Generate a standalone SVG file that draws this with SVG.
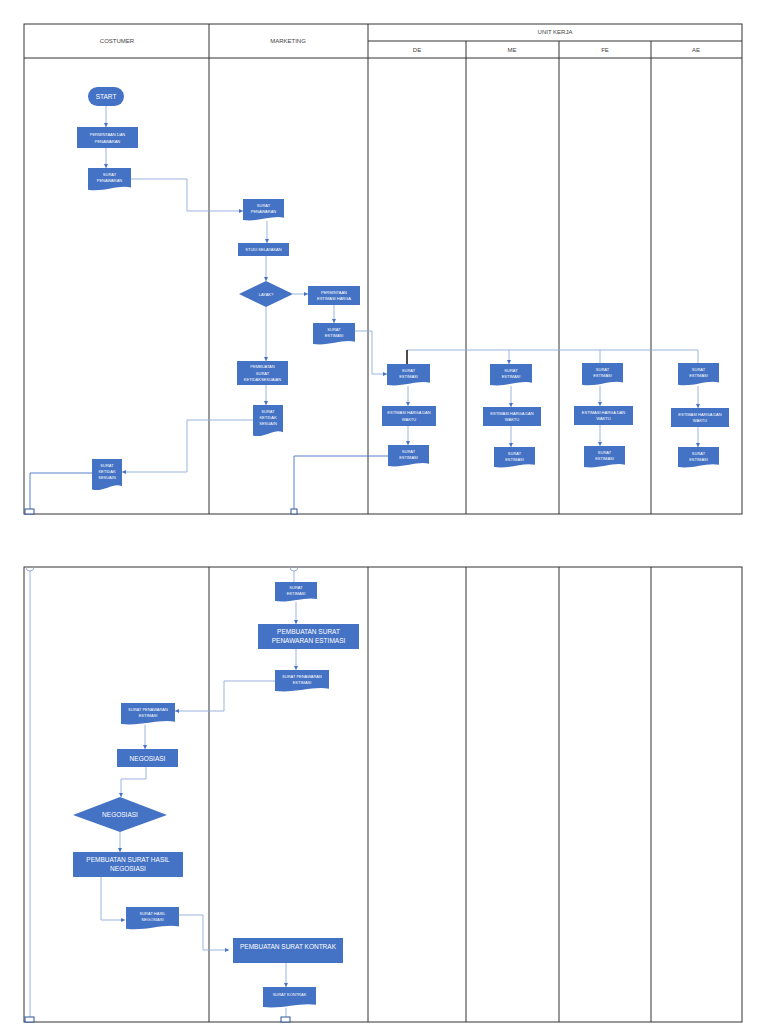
<svg xmlns="http://www.w3.org/2000/svg" xmlns:xlink="http://www.w3.org/1999/xlink" width="768" height="1024" viewBox="0 0 768 1024">
<style>
.lane{fill:none;stroke:#333;stroke-width:1}
.hd{font-family:"Liberation Sans",Arial,sans-serif;font-size:6px;fill:#444;text-anchor:middle}
.n{fill:#4472c4}
.t{font-family:"Liberation Sans",Arial,sans-serif;font-size:4px;fill:#fff;text-anchor:middle}
.tb{font-family:"Liberation Sans",Arial,sans-serif;font-size:6.5px;fill:#fff;text-anchor:middle}
.c{fill:none;stroke:#8eaadb;stroke-width:0.9}
.cd{fill:none;stroke:#4472c4;stroke-width:0.9}
.sq{fill:#fff;stroke:#2f5597;stroke-width:1}
</style>
<defs>
<marker id="ah" viewBox="0 0 6 6" refX="6" refY="3" markerWidth="4" markerHeight="4" orient="auto" markerUnits="userSpaceOnUse">
<path d="M0,0 L6,3 L0,6 Z" fill="#4472c4"/>
</marker>
<path id="doc" d="M0 0 H1 V0.85 C0.7 0.72 0.38 1.06 0 0.95 Z"/>
</defs>
<rect width="768" height="1024" fill="#fff"/>

<g id="table1">
<rect class="lane" x="24" y="24" width="718" height="490"/>
<path class="lane" d="M209 24V514M368 24V514M368 41H742M466 41V514M559 41V514M651 41V514M24 58H742"/>
<text class="hd" x="117" y="43">COSTUMER</text>
<text class="hd" x="288" y="43">MARKETING</text>
<text class="hd" x="555" y="34">UNIT KERJA</text>
<text class="hd" x="417" y="52">DE</text>
<text class="hd" x="512" y="52">ME</text>
<text class="hd" x="605" y="52">FE</text>
<text class="hd" x="696" y="52">AE</text>
</g>
<g id="table2">
<rect class="lane" x="24" y="567" width="718" height="455"/>
<path class="lane" d="M209 567V1022M368 567V1022M466 567V1022M559 567V1022M651 567V1022"/>
</g>

<g id="connectors">
<path class="c" d="M106 106V127" marker-end="url(#ah)"/>
<path class="c" d="M106 148V168" marker-end="url(#ah)"/>
<path class="c" d="M131 179H187V211H243" marker-end="url(#ah)"/>
<path class="c" d="M267 221V243" marker-end="url(#ah)"/>
<path class="c" d="M266 256V281" marker-end="url(#ah)"/>
<path class="c" d="M293 294H308" marker-end="url(#ah)"/>
<path class="c" d="M334 305V323" marker-end="url(#ah)"/>
<path class="c" d="M355 331H372V374H387" marker-end="url(#ah)"/>
<path class="c" d="M407 350H698"/>
<path d="M407 350V364" stroke="#111" stroke-width="1.5" fill="none"/>
<path class="c" d="M509 350V364" marker-end="url(#ah)"/>
<path class="c" d="M600 350V363"/>
<path class="c" d="M698 350V363"/>
<path class="c" d="M408 386V406" marker-end="url(#ah)"/>
<path class="c" d="M408 426V445" marker-end="url(#ah)"/>
<path class="c" d="M511 386V407" marker-end="url(#ah)"/>
<path class="c" d="M511 426V447" marker-end="url(#ah)"/>
<path class="c" d="M600 386V406" marker-end="url(#ah)"/>
<path class="c" d="M600 425V446" marker-end="url(#ah)"/>
<path class="c" d="M698 386V408" marker-end="url(#ah)"/>
<path class="c" d="M698 427V447" marker-end="url(#ah)"/>
<path class="cd" d="M388 456H294V509"/>
<rect class="sq" x="291" y="509" width="6" height="5"/>
<path class="c" d="M266 307V361" marker-end="url(#ah)"/>
<path class="c" d="M266 385V405" marker-end="url(#ah)"/>
<path class="c" d="M253 420H187V472H122" marker-end="url(#ah)"/>
<path class="cd" d="M92 473H30V509"/>
<rect class="sq" x="25" y="509" width="9" height="5"/>

<path class="c" d="M26 567A4 4 0 0 0 34 567"/>
<path class="c" d="M290 567A4 4 0 0 0 298 567"/>
<path class="c" d="M30 571V1017"/>
<rect class="sq" x="25" y="1017" width="9" height="5"/>
<path class="c" d="M294 571V582"/>
<path class="c" d="M296 602V624" marker-end="url(#ah)"/>
<path class="c" d="M296 649V670" marker-end="url(#ah)"/>
<path class="c" d="M275 681H224V711H175" marker-end="url(#ah)"/>
<path class="c" d="M145 725V749" marker-end="url(#ah)"/>
<path class="c" d="M146 767V779H121V797" marker-end="url(#ah)"/>
<path class="c" d="M120 832V852" marker-end="url(#ah)"/>
<path class="c" d="M101 877V920H125" marker-end="url(#ah)"/>
<path class="c" d="M179 915H203V950H229" marker-end="url(#ah)"/>
<path class="c" d="M286 963V987" marker-end="url(#ah)"/>
<path class="c" d="M286 1008V1017"/>
<rect class="sq" x="281" y="1017" width="9" height="5"/>
</g>

<g id="start">
<rect class="n" x="88" y="87" width="36" height="19" rx="9.5"/>
<text class="t" x="106" y="99" style="font-size:6.5px">START</text>
</g>
<g id="permintaan-penawaran">
<rect class="n" x="77" y="127" width="61" height="21"/>
<text class="t" x="107.5" y="136">PERMINTAAN DAN</text>
<text class="t" x="107.5" y="142.5">PENAWARAN</text>
</g>
<g id="surat-penawaran-c">
<use href="#doc" class="n" transform="translate(88 168) scale(43 23)"/>
<text class="t" x="109.5" y="176">SURAT</text>
<text class="t" x="109.5" y="182">PENAWARAN</text>
</g>
<g id="surat-penawaran-m">
<use href="#doc" class="n" transform="translate(243 199) scale(41 22)"/>
<text class="t" x="263.5" y="207">SURAT</text>
<text class="t" x="263.5" y="213">PENAWARAN</text>
</g>
<g id="studi-kelayakan">
<rect class="n" x="238" y="243" width="51" height="13"/>
<text class="t" x="263.5" y="251">STUDI KELAYAKAN</text>
</g>
<g id="layak">
<path class="n" d="M239 294L266 281L293 294L266 307Z"/>
<text class="t" x="266" y="295.5">LAYAK?</text>
</g>
<g id="permintaan-estimasi">
<rect class="n" x="308" y="286" width="52" height="19"/>
<text class="t" x="334" y="294">PERMINTAAN</text>
<text class="t" x="334" y="300">ESTIMASI HARGA</text>
</g>
<g id="surat-estimasi-m">
<use href="#doc" class="n" transform="translate(313 323) scale(42 22)"/>
<text class="t" x="334" y="331">SURAT</text>
<text class="t" x="334" y="337">ESTIMASI</text>
</g>
<g id="pembuatan-ketidaksesuaian">
<rect class="n" x="237" y="361" width="51" height="24"/>
<text class="t" x="262.5" y="368">PEMBUATAN</text>
<text class="t" x="262.5" y="374.5">SURAT</text>
<text class="t" x="262.5" y="381">KETIDAKSESUAIAN</text>
</g>
<g id="surat-ketidak-m">
<use href="#doc" class="n" transform="translate(253 405) scale(30 32)"/>
<text class="t" x="268" y="413">SURAT</text>
<text class="t" x="268" y="419">KETIDAK</text>
<text class="t" x="268" y="425">SESUAIN</text>
</g>
<g id="surat-ketidak-c">
<use href="#doc" class="n" transform="translate(92 459) scale(30 32)"/>
<text class="t" x="107" y="467">SURAT</text>
<text class="t" x="107" y="473">KETIDAK</text>
<text class="t" x="107" y="479">SESUAIN</text>
</g>

<g id="de-surat-1">
<use href="#doc" class="n" transform="translate(387 364) scale(43 22)"/>
<text class="t" x="408.5" y="372">SURAT</text>
<text class="t" x="408.5" y="378">ESTIMASI</text>
</g>
<g id="de-estimasi">
<rect class="n" x="382" y="406" width="54" height="20"/>
<text class="t" x="409" y="414">ESTIMASI HARGA DAN</text>
<text class="t" x="409" y="420.5">WAKTU</text>
</g>
<g id="de-surat-2">
<use href="#doc" class="n" transform="translate(388 445) scale(41 22)"/>
<text class="t" x="408.5" y="453">SURAT</text>
<text class="t" x="408.5" y="459">ESTIMASI</text>
</g>
<g id="me-surat-1">
<use href="#doc" class="n" transform="translate(490 364) scale(42 22)"/>
<text class="t" x="511" y="372">SURAT</text>
<text class="t" x="511" y="378">ESTIMASI</text>
</g>
<g id="me-estimasi">
<rect class="n" x="483" y="407" width="58" height="19"/>
<text class="t" x="512" y="414.5">ESTIMASI HARGA DAN</text>
<text class="t" x="512" y="421">WAKTU</text>
</g>
<g id="me-surat-2">
<use href="#doc" class="n" transform="translate(494 447) scale(41 21)"/>
<text class="t" x="514.5" y="454.5">SURAT</text>
<text class="t" x="514.5" y="460.5">ESTIMASI</text>
</g>
<g id="fe-surat-1">
<use href="#doc" class="n" transform="translate(582 363) scale(41 23)"/>
<text class="t" x="602.5" y="371">SURAT</text>
<text class="t" x="602.5" y="377">ESTIMASI</text>
</g>
<g id="fe-estimasi">
<rect class="n" x="574" y="406" width="59" height="19"/>
<text class="t" x="603.5" y="413.5">ESTIMASI HARGA DAN</text>
<text class="t" x="603.5" y="420">WAKTU</text>
</g>
<g id="fe-surat-2">
<use href="#doc" class="n" transform="translate(584 446) scale(41 22)"/>
<text class="t" x="604.5" y="454">SURAT</text>
<text class="t" x="604.5" y="460">ESTIMASI</text>
</g>
<g id="ae-surat-1">
<use href="#doc" class="n" transform="translate(678 363) scale(41 23)"/>
<text class="t" x="698.5" y="371">SURAT</text>
<text class="t" x="698.5" y="377">ESTIMASI</text>
</g>
<g id="ae-estimasi">
<rect class="n" x="671" y="408" width="58" height="19"/>
<text class="t" x="700" y="415.5">ESTIMASI HARGA DAN</text>
<text class="t" x="700" y="422">WAKTU</text>
</g>
<g id="ae-surat-2">
<use href="#doc" class="n" transform="translate(678 447) scale(41 21)"/>
<text class="t" x="698.5" y="454.5">SURAT</text>
<text class="t" x="698.5" y="460.5">ESTIMASI</text>
</g>

<g id="p2-surat-estimasi">
<use href="#doc" class="n" transform="translate(275 582) scale(42 20)"/>
<text class="t" x="296" y="589">SURAT</text>
<text class="t" x="296" y="595">ESTIMASI</text>
</g>
<g id="pembuatan-penawaran-estimasi">
<rect class="n" x="258" y="624" width="101" height="25"/>
<text class="tb" x="308.5" y="634">PEMBUATAN SURAT</text>
<text class="tb" x="308.5" y="643">PENAWARAN ESTIMASI</text>
</g>
<g id="surat-penawaran-estimasi-m">
<use href="#doc" class="n" transform="translate(275 670) scale(54 22)"/>
<text class="t" x="302" y="677.5">SURAT PENAWARAN</text>
<text class="t" x="302" y="683.5">ESTIMASI</text>
</g>
<g id="surat-penawaran-estimasi-c">
<use href="#doc" class="n" transform="translate(121 703) scale(54 22)"/>
<text class="t" x="148" y="710.5">SURAT PENAWARAN</text>
<text class="t" x="148" y="716.5">ESTIMASI</text>
</g>
<g id="negosiasi">
<rect class="n" x="117" y="749" width="61" height="18"/>
<text class="tb" x="147.5" y="760.5">NEGOSIASI</text>
</g>
<g id="negosiasi-decision">
<path class="n" d="M73 815L120 797L167 815L120 832Z"/>
<text class="tb" x="120" y="817">NEGOSIASI</text>
</g>
<g id="pembuatan-hasil-negosiasi">
<rect class="n" x="73" y="852" width="110" height="25"/>
<text class="tb" x="128" y="862">PEMBUATAN SURAT HASIL</text>
<text class="tb" x="128" y="871">NEGOSIASI</text>
</g>
<g id="surat-hasil-negosiasi">
<use href="#doc" class="n" transform="translate(126 907) scale(53 23)"/>
<text class="t" x="152.5" y="914.5">SURAT HASIL</text>
<text class="t" x="152.5" y="920.5">NEGOSIASI</text>
</g>
<g id="pembuatan-kontrak">
<rect class="n" x="233" y="938" width="110" height="25"/>
<text class="tb" x="288" y="949">PEMBUATAN SURAT KONTRAK</text>
</g>
<g id="surat-kontrak">
<use href="#doc" class="n" transform="translate(263 987) scale(53 21)"/>
<text class="t" x="289.5" y="996">SURAT KONTRAK</text>
</g>
</svg>
